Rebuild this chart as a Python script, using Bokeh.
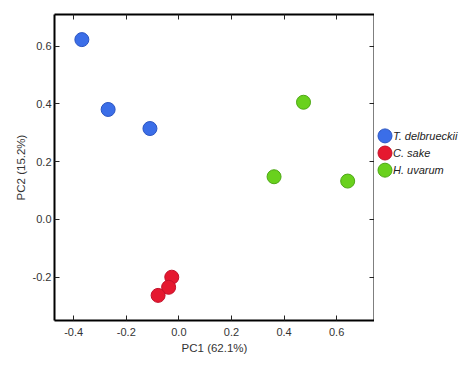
from bokeh.plotting import figure
from bokeh.layouts import row
from bokeh.models import Range1d, LinearAxis, FixedTicker, PrintfTickFormatter, ColumnDataSource
from bokeh.core.properties import value
from bokeh.embed import file_html
from bokeh.resources import INLINE

species = ["T. delbrueckii", "C. sake", "H. uvarum"]
pc1_t = [-0.369, -0.269, -0.110]
pc2_t = [0.623, 0.381, 0.315]
pc1_c = [-0.027, -0.039, -0.079]
pc2_c = [-0.200, -0.235, -0.263]
pc1_h = [0.474, 0.362, 0.642]
pc2_h = [0.406, 0.148, 0.133]
x_ticks = [-0.4, -0.2, 0.0, 0.2, 0.4, 0.6]
y_ticks = [-0.2, 0.0, 0.2, 0.4, 0.6]

fills = ["#3b6ee8", "#e5182f", "#69d11d"]
lines = ["#2b55c2", "#c3112a", "#4ea816"]

p = figure(width=374, height=368, output_backend="svg", toolbar_location=None,
           x_range=Range1d(-0.473, 0.744), y_range=Range1d(-0.35, 0.71),
           x_axis_label="PC1 (62.1%)", y_axis_label="PC2 (15.2%)")
p.min_border_left = 54
p.min_border_right = 0
p.min_border_top = 14
p.min_border_bottom = 48
p.xgrid.visible = False
p.ygrid.visible = False
p.outline_line_color = None
p.background_fill_color = "white"
p.border_fill_color = "white"

for xs, ys, fc, lc in [(pc1_t, pc2_t, fills[0], lines[0]),
                       (pc1_c, pc2_c, fills[1], lines[1]),
                       (pc1_h, pc2_h, fills[2], lines[2])]:
    src = ColumnDataSource(dict(x=xs, y=ys))
    p.scatter("x", "y", source=src, size=14, fill_color=fc, line_color=lc, line_width=1)

top = LinearAxis()
right = LinearAxis()
p.add_layout(top, "above")
p.add_layout(right, "right")

for ax in [p.xaxis[0], top]:
    ax.ticker = FixedTicker(ticks=x_ticks)
for ax in [p.yaxis[0], right]:
    ax.ticker = FixedTicker(ticks=y_ticks)

for ax in p.xaxis + p.yaxis:
    ax.formatter = PrintfTickFormatter(format="%.1f")
    ax.axis_line_color = "black"
    ax.axis_line_width = 2
    ax.major_tick_in = 5
    ax.major_tick_out = 0
    ax.major_tick_line_color = "#222222"
    ax.minor_tick_line_color = None
    ax.major_label_text_font = "Liberation Sans"
    ax.major_label_text_font_size = "11px"
    ax.major_label_text_color = "#333333"
    ax.major_label_standoff = 3
    ax.axis_label_text_font = "Liberation Sans"
    ax.axis_label_text_font_size = "11.5px"
    ax.axis_label_text_font_style = "normal"
    ax.axis_label_text_color = "#333333"
    ax.axis_label_standoff = 3

for ax in [top, right]:
    ax.major_label_text_font_size = "0px"
    ax.major_label_text_alpha = 0
    ax.major_label_standoff = 0
    ax.axis_label = None

# legend panel drawn as its own small figure (pixel coordinates)
lg = figure(width=100, height=368, output_backend="svg", toolbar_location=None,
            x_range=Range1d(0, 100), y_range=Range1d(368, 0),
            min_border=0)
lg.axis.visible = False
lg.grid.visible = False
lg.outline_line_color = None
lg.border_fill_color = "white"
lg.background_fill_color = "white"
n = len(species)
row_y = [146 + i * 20.6 for i in range(n)]
lsrc = ColumnDataSource(dict(x=[10.5] * n, tx=[18.5] * n, y=row_y, label=species,
                             fill=fills, line=lines))
lg.scatter("x", "y", source=lsrc, size=14, fill_color="fill", line_color="line", line_width=1)
lg.text("tx", "y", text="label", source=lsrc, text_font=value("Liberation Sans"),
        text_font_style="italic", text_font_size="11px", text_color="#222222",
        text_baseline="middle", text_align="left")

layout = row(p, lg, spacing=0)
open("out.html", "w").write(file_html(layout, INLINE))
